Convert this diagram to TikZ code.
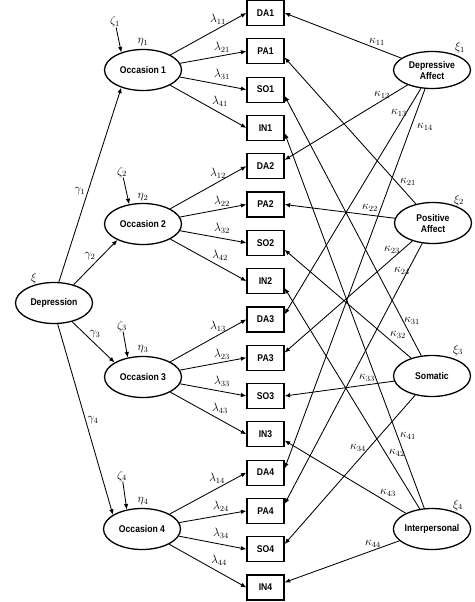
\documentclass[tikz,border=0pt]{standalone}
\usepackage{fontspec}
\setmainfont{Liberation Sans}[FakeStretch=0.88]
\usetikzlibrary{shapes.geometric,arrows.meta}
\begin{document}
\begin{tikzpicture}[x=1pt,y=-1pt,
  lat/.style={ellipse,draw,line width=1.3pt,minimum width=77pt,minimum height=41pt,inner sep=0pt,
    font=\fontsize{9.8}{11}\selectfont\bfseries,align=center},
  ind/.style={rectangle,draw,line width=1.2pt,minimum width=37pt,minimum height=25pt,inner sep=0pt,
    font=\fontsize{9.8}{11}\selectfont\bfseries},
  arr/.style={line width=0.85pt,-{Latex[length=5.5pt,width=4.5pt]}},
  lab/.style={inner sep=0pt,font=\fontsize{11.5}{11.5}\selectfont}]
\useasboundingbox (0,0) rectangle (474,602);
% latent variables
\node[lat] (dep) at (54,303) {Depression};
\node[lat] (o1) at (143,70) {Occasion 1};
\node[lat] (o2) at (143,224) {Occasion 2};
\node[lat] (o3) at (143,377) {Occasion 3};
\node[lat] (o4) at (142,529) {Occasion 4};
\node[lat,minimum height=37pt] (da) at (432,70) {Depressive\\Affect};
\node[lat] (pa) at (433,223) {Positive\\Affect};
\node[lat] (so) at (432,376) {Somatic};
\node[lat] (ip) at (432,529) {Interpersonal};
% indicators
\node[ind] (DA1) at (265.5,13) {DA1};
\node[ind] (PA1) at (265.5,51.3) {PA1};
\node[ind] (SO1) at (265.5,89.6) {SO1};
\node[ind] (IN1) at (265.5,127.9) {IN1};
\node[ind] (DA2) at (265.5,166.2) {DA2};
\node[ind] (PA2) at (265.5,204.5) {PA2};
\node[ind] (SO2) at (265.5,242.8) {SO2};
\node[ind] (IN2) at (265.5,281.1) {IN2};
\node[ind] (DA3) at (265.5,319.4) {DA3};
\node[ind] (PA3) at (265.5,357.7) {PA3};
\node[ind] (SO3) at (265.5,396) {SO3};
\node[ind] (IN3) at (265.5,434.3) {IN3};
\node[ind] (DA4) at (265.5,472.6) {DA4};
\node[ind] (PA4) at (265.5,510.9) {PA4};
\node[ind] (SO4) at (265.5,549.2) {SO4};
\node[ind] (IN4) at (265.5,587.5) {IN4};
% depression -> occasions
\draw[arr] (dep.77) -- (o1.219);
\draw[arr] (dep.43) -- (o2.212);
\draw[arr] (dep.314) -- (o3.153);
\draw[arr] (dep.280) -- (o4.154);
\node[lab] (xi0) at (34,278) {$\xi$};
\node[lab] (g1) at (80,191) {$\gamma_1$};
\node[lab] (g2) at (90,256) {$\gamma_2$};
\node[lab] (g3) at (95,334) {$\gamma_3$};
\node[lab] (g4) at (93,420) {$\gamma_4$};
% disturbances
\node[lab] (z1) at (115,22) {$\zeta_1$};
\node[lab] (z2) at (122,172) {$\zeta_2$};
\node[lab] (z3) at (122,326) {$\zeta_3$};
\node[lab] (z4) at (122,476) {$\zeta_4$};
\draw[arr] (z1) -- (o1.141);
\draw[arr] (z2) -- (o2.125);
\draw[arr] (z3) -- (o3.128);
\draw[arr] (z4) -- (o4.128);
\node[lab] (e1) at (143,42) {$\eta_1$};
\node[lab] (e2) at (143,197) {$\eta_2$};
\node[lab] (e3) at (143,349) {$\eta_3$};
\node[lab] (e4) at (143,501) {$\eta_4$};
% loadings of occasions
\foreach \i in {1,2,3,4}{
  \draw[arr] (o\i) -- (DA\i.west);
  \draw[arr] (o\i) -- (PA\i.west);
  \draw[arr] (o\i) -- (SO\i.west);
  \draw[arr] (o\i) -- (IN\i.west);
  \node[lab] (l1\i) at ([shift={(75,-51)}]o\i) {$\lambda_{1\i}$};
  \node[lab] (l2\i) at ([shift={(79,-23)}]o\i) {$\lambda_{2\i}$};
  \node[lab] (l3\i) at ([shift={(79,4)}]o\i) {$\lambda_{3\i}$};
  \node[lab] (l4\i) at ([shift={(77,31)}]o\i) {$\lambda_{4\i}$};
}
% loadings of traits
\draw[arr] (da) -- (DA1.east);
\draw[arr] (da) -- (DA2.18);
\draw[arr] (da) -- (DA3.15);
\draw[arr] (da) -- (DA4.12);
\draw[arr] (pa) -- (PA1.-18);
\draw[arr] (pa) -- (PA2.east);
\draw[arr] (pa) -- (PA3.15);
\draw[arr] (pa) -- (PA4.20);
\draw[arr] (so) -- (SO1.-18);
\draw[arr] (so) -- (SO2.-20);
\draw[arr] (so) -- (SO3.east);
\draw[arr] (so) -- (SO4.15);
\draw[arr] (ip) -- (IN1.-15);
\draw[arr] (ip) -- (IN2.-20);
\draw[arr] (ip) -- (IN3.-18);
\draw[arr] (ip) -- (IN4.15);
\node[lab] (k11) at (377,42) {$\kappa_{11}$};
\node[lab] (k12) at (382,95) {$\kappa_{12}$};
\node[lab] (k13) at (399,113) {$\kappa_{13}$};
\node[lab] (k14) at (425,127) {$\kappa_{14}$};
\node[lab] (k21) at (408,182) {$\kappa_{21}$};
\node[lab] (k22) at (370,208) {$\kappa_{22}$};
\node[lab] (k23) at (392,250) {$\kappa_{23}$};
\node[lab] (k24) at (402,271) {$\kappa_{24}$};
\node[lab] (k31) at (412,321) {$\kappa_{31}$};
\node[lab] (k32) at (398,335) {$\kappa_{32}$};
\node[lab] (k33) at (367,378) {$\kappa_{33}$};
\node[lab] (k34) at (358,448) {$\kappa_{34}$};
\node[lab] (k41) at (408,436) {$\kappa_{41}$};
\node[lab] (k42) at (397,453) {$\kappa_{42}$};
\node[lab] (k43) at (388,493) {$\kappa_{43}$};
\node[lab] (k44) at (373,544) {$\kappa_{44}$};
\node[lab] (x1) at (460,48) {$\xi_1$};
\node[lab] (x2) at (459,200) {$\xi_2$};
\node[lab] (x3) at (458,350) {$\xi_3$};
\node[lab] (x4) at (458,505) {$\xi_4$};
\end{tikzpicture}
\end{document}
